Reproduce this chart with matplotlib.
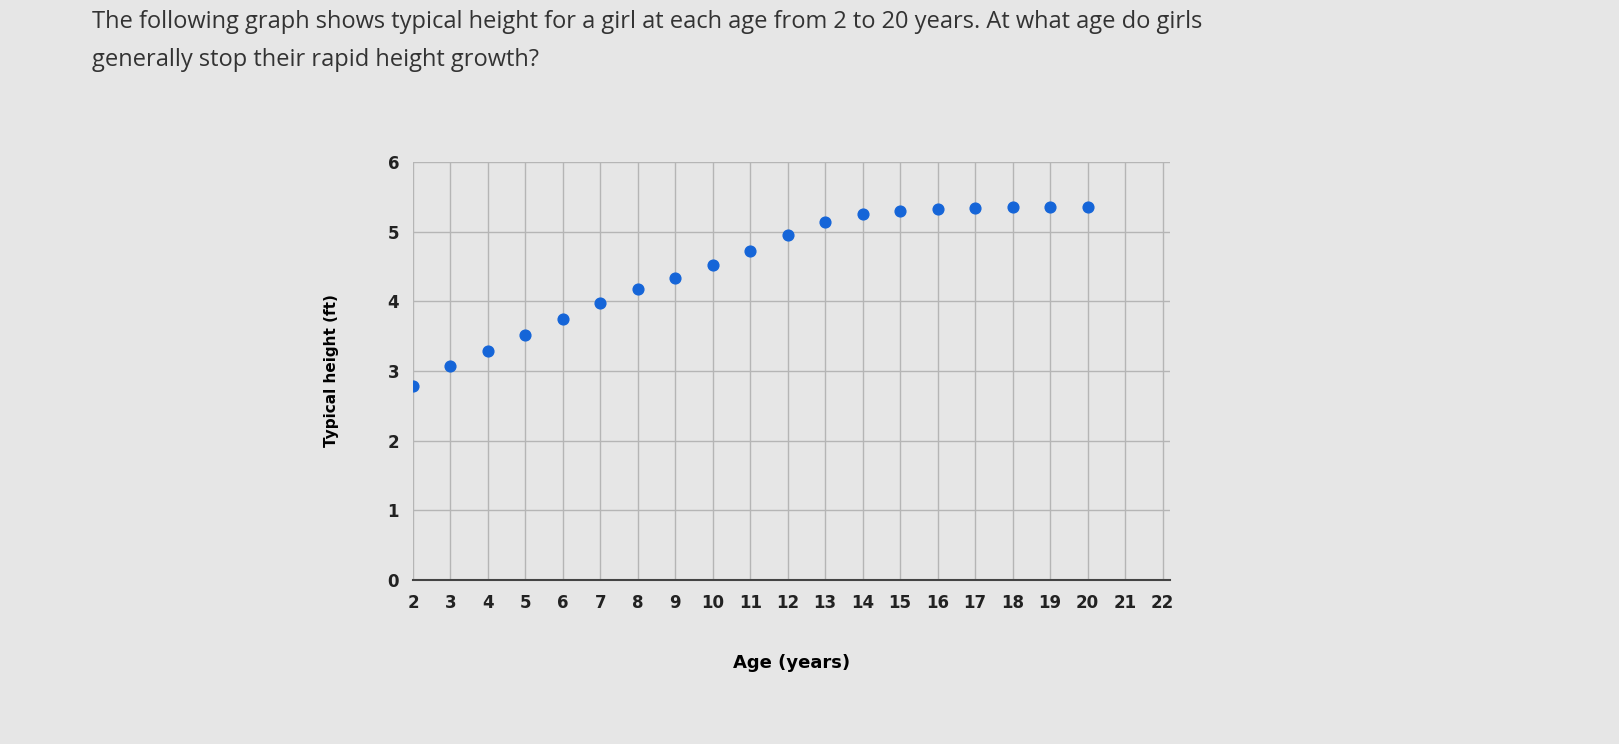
import matplotlib.pyplot as plt

ages = list(range(2, 21))
heights = [2.78, 3.07, 3.29, 3.52, 3.75, 3.98, 4.17, 4.34, 4.52, 4.72,
           4.95, 5.14, 5.25, 5.30, 5.32, 5.34, 5.35, 5.35, 5.35]
x_ticks = list(range(2, 23))
y_ticks = list(range(0, 7))

question = ("The following graph shows typical height for a girl at each age from 2 to 20 years. "
            "At what age do girls\ngenerally stop their rapid height growth?")

bg = "#e6e6e6"
fig = plt.figure(figsize=(16.19, 7.44), dpi=100, facecolor=bg)
fig.text(92 / 1619, 1 - 10 / 744, question, fontsize=17, color="#333333",
         va="top", ha="left", linespacing=1.75, family="Open Sans")

ax = fig.add_axes([413 / 1619, 1 - 580 / 744, (1170 - 413) / 1619, (580 - 162) / 744])
ax.set_facecolor(bg)
ax.scatter(ages, heights, s=60, color="#1565d8", zorder=3)
ax.set_xlim(2, 22.2)
ax.set_ylim(0, 6)
ax.set_xticks(x_ticks)
ax.set_yticks(y_ticks)
ax.grid(True, color="#b5b5b5", linewidth=1)
for s in ["top", "right", "left"]:
    ax.spines[s].set_visible(False)
ax.spines["bottom"].set_color("#444444")
ax.spines["bottom"].set_linewidth(1.5)
ax.tick_params(length=0, labelsize=12, colors="#222222", pad=10)
for t in ax.get_xticklabels() + ax.get_yticklabels():
    t.set_fontweight("bold")
ax.set_xlabel("Age (years)", fontsize=13, fontweight="bold", labelpad=30)
ax.set_ylabel("Typical height (ft)", fontsize=11, fontweight="bold", labelpad=35)

fig.savefig("out.png", dpi=100, facecolor=bg)
